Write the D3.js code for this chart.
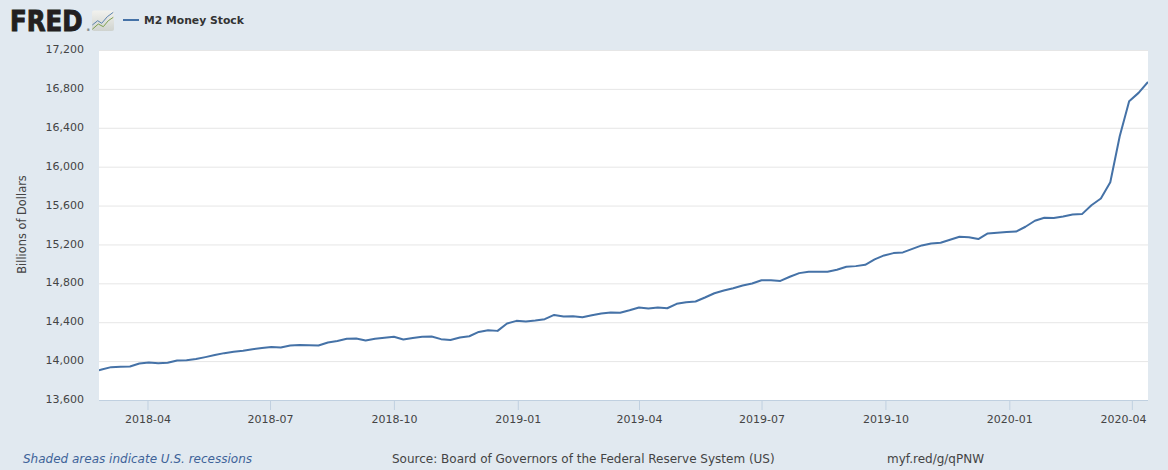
<!DOCTYPE html>
<html>
<head>
<meta charset="utf-8">
<script src="https://cdnjs.cloudflare.com/ajax/libs/d3/7.8.5/d3.min.js"></script>
<style>
html, body { margin: 0; padding: 0; background: #e1e9f0; overflow: hidden; }
text { font-family: "DejaVu Sans", sans-serif; }
</style>
</head>
<body>
<script>
"use strict";
const seriesName = "M2 Money Stock";
const yTitle = "Billions of Dollars";
const firstWeek = "2018-02-19";
// weekly values, billions of dollars
const m2Values = [
	13885, 13914, 13938, 13942, 13945, 13976, 13986, 13979, 13983, 14007,
	14010, 14021, 14041, 14062, 14082, 14096, 14106, 14123, 14134, 14144,
	14141, 14161, 14165, 14163, 14160, 14192, 14206, 14230, 14233, 14213,
	14230, 14240, 14250, 14223, 14237, 14250, 14254, 14226, 14218, 14242,
	14256, 14300, 14318, 14311, 14386, 14414, 14407, 14417, 14431, 14475,
	14458, 14462, 14451, 14472, 14489, 14501, 14498, 14523, 14551, 14541,
	14551, 14544, 14589, 14606, 14613, 14654, 14698, 14726, 14750, 14777,
	14798, 14832, 14832, 14825, 14868, 14905, 14919, 14919, 14919, 14939,
	14970, 14977, 14991, 15046, 15087, 15111, 15118, 15155, 15190, 15210,
	15217, 15248, 15279, 15275, 15255, 15313, 15320, 15327, 15332, 15382,
	15444, 15474, 15471, 15488, 15509, 15512, 15603, 15672, 15840, 16313,
	16674, 16759, 16871
];
const yTicks = [13600, 14000, 14400, 14800, 15200, 15600, 16000, 16400, 16800, 17200];
const xTicks = ["2018-04-01", "2018-07-01", "2018-10-01", "2019-01-01", "2019-04-01", "2019-07-01", "2019-10-01", "2020-01-01", "2020-04-01"];
const xDomain = ["2018-02-24", "2020-04-13"];
const footLeft = "Shaded areas indicate U.S. recessions";
const footMid = "Source: Board of Governors of the Federal Reserve System (US)";
const footRight = "myf.red/g/qPNW";

const w = 1168, h = 470;
const plot = {left: 99, right: 1148, top: 50, bottom: 400};
const lineColor = "#4572a7";
const inkColor = "#444";
const parse = d3.utcParse("%Y-%m-%d");

const weeks = m2Values.map((v, i) => d3.utcDay.offset(parse(firstWeek), i * 7));
const data = m2Values.map((v, i) => ({date: weeks[i], value: v}));

const x = d3.scaleUtc().domain(xDomain.map(parse)).range([plot.left, plot.right]);
const y = d3.scaleLinear().domain([13600, 17200]).range([plot.bottom, plot.top]);

const svg = d3.select("body").append("svg").attr("width", w).attr("height", h).style("display", "block");

svg.append("rect").attr("x", plot.left).attr("y", plot.top)
	.attr("width", plot.right - plot.left).attr("height", plot.bottom - plot.top).attr("fill", "#fff");
svg.append("clipPath").attr("id", "plot-clip").append("rect")
	.attr("x", plot.left).attr("y", plot.top)
	.attr("width", plot.right - plot.left).attr("height", plot.bottom - plot.top);

// y axis: grid lines and labels
const yAxis = d3.axisLeft(y).tickValues(yTicks).tickSize(plot.left - plot.right).tickFormat(d3.format(","));
const yG = svg.append("g").attr("transform", "translate(" + plot.left + ",0)").call(yAxis);
yG.select(".domain").remove();
yG.selectAll("line").attr("stroke", "#e6e6e6");
yG.selectAll("text").attr("fill", inkColor).style("font-size", "11px").attr("x", -15).attr("dy", "0.24em");

// x axis
const xAxis = d3.axisBottom(x).tickValues(xTicks.map(parse)).tickSize(10).tickPadding(5).tickFormat(d3.utcFormat("%Y-%m"));
const xG = svg.append("g").attr("transform", "translate(0," + plot.bottom + ")").call(xAxis);
xG.select(".domain").attr("stroke", "#c0d0e0").attr("d", "M" + plot.left + ",0.5H" + plot.right);
xG.selectAll("line").attr("stroke", "#c0d0e0");
xG.selectAll("text").attr("fill", inkColor).style("font-size", "11px");
// last label is pushed back so it stays inside the plot edge
const lastTick = xG.selectAll(".tick").filter((d, i) => i == xTicks.length - 1);
lastTick.select("text").attr("text-anchor", "end").attr("x", plot.right - 2 - x(parse(xTicks[xTicks.length - 1])));

const line = d3.line().x(d => x(d.date)).y(d => y(d.value));
svg.append("path").datum(data).attr("clip-path", "url(#plot-clip)")
	.attr("fill", "none").attr("stroke", lineColor).attr("stroke-width", 2).attr("stroke-linejoin", "round").attr("d", line);

svg.append("text").attr("transform", "translate(25.5,224.5) rotate(-90)").attr("text-anchor", "middle")
	.attr("fill", inkColor).style("font-size", "11.4px").text(yTitle);

// FRED logo
svg.append("text").attr("transform", "translate(10,30.5) scale(0.89,1)").attr("fill", "#231f20").attr("stroke", "#231f20").attr("stroke-width", 1)
	.style("font-weight", "bold").style("font-size", "27.5px").text("FRED");
svg.append("text").attr("x", 86.5).attr("y", 31).attr("fill", "#231f20").style("font-size", "3.5px").text("®");
const iconGrad = svg.append("linearGradient").attr("id", "icon-bg").attr("x1", 0).attr("x2", 0).attr("y1", 0).attr("y2", 1);
iconGrad.append("stop").attr("offset", "0%").attr("stop-color", "#f2f2ee");
iconGrad.append("stop").attr("offset", "100%").attr("stop-color", "#cfd3cf");
svg.append("rect").attr("x", 92).attr("y", 10.5).attr("width", 22).attr("height", 20.5).attr("rx", 2).attr("fill", "url(#icon-bg)");
svg.append("path").attr("d", "M92.3,25L97.7,20.7L101.7,23.3L107.3,16.7L113.3,12.3").attr("fill", "none").attr("stroke", "#5b82ad").attr("stroke-width", 1);
svg.append("path").attr("d", "M92.3,29.3L98.3,24L103.3,26.7L108.3,20.7L113.3,17.3").attr("fill", "none").attr("stroke", "#7ea04e").attr("stroke-width", 1);

// legend
svg.append("line").attr("x1", 123).attr("x2", 139).attr("y1", 20).attr("y2", 20).attr("stroke", lineColor).attr("stroke-width", 2);
svg.append("text").attr("x", 144).attr("y", 24).attr("fill", "#333").style("font-size", "10.8px").style("font-weight", "bold").text(seriesName);

// footer
svg.append("text").attr("x", 23).attr("y", 463).attr("fill", "#3e6399").style("font-size", "12px").style("font-style", "italic").text(footLeft);
svg.append("text").attr("x", 392).attr("y", 463).attr("fill", inkColor).style("font-size", "12px").text(footMid);
svg.append("text").attr("x", 887).attr("y", 463).attr("fill", inkColor).style("font-size", "12px").text(footRight);
</script>
</body>
</html>
